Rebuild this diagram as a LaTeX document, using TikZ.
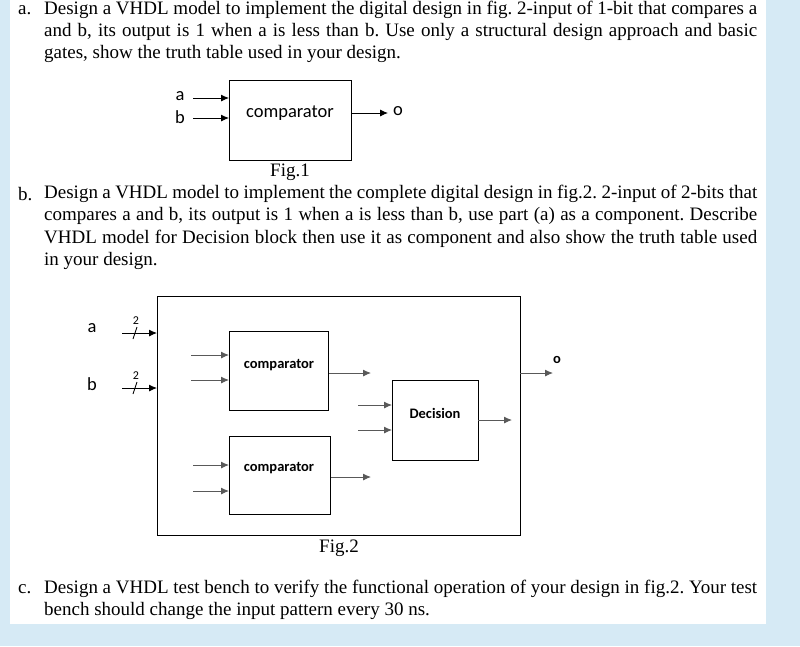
\documentclass[tikz,border=0pt]{standalone}
\usepackage{fontspec}
\setmainfont{Liberation Serif}
\newfontfamily\carfont{Carlito}
\usetikzlibrary{arrows.meta}
\begin{document}
\frenchspacing
\begin{tikzpicture}[x=1pt,y=-1pt,
  txt/.style={anchor=west,inner sep=0pt,font=\fontsize{19}{22}\selectfont},
  lbl/.style={anchor=west,inner sep=0pt,font=\fontsize{19}{22}\selectfont},
  blk/.style={draw,line width=1pt,anchor=north west,inner sep=0pt},
  sans/.style={font=\carfont\fontsize{18.5}{21}\selectfont,inner sep=0pt},
  sanss/.style={font=\carfont\bfseries\fontsize{14.5}{16}\selectfont,inner sep=0pt},
  arr/.style={-{Latex[length=8pt,width=7pt]},line width=0.9pt},
  garr/.style={-{Latex[length=8pt,width=7pt]},line width=0.9pt,draw=black!65}]
\useasboundingbox (0,0) rectangle (800,646);
\fill[fill={rgb,255:red,214;green,234;blue,245}] (0,0) rectangle (800,646);
\fill[white] (10,0) rectangle (766,624);
\newcommand\jl[1]{\makebox[713pt][s]{#1}}
% part a
\node[lbl] (la) at (18,10) {a.};
\node[txt] (a1) at (44,10) {\jl{Design a VHDL model to implement the digital design in fig. 2-input of 1-bit that compares a}};
\node[txt] (a2) at (44,32) {\jl{and b, its output is 1 when a is less than b. Use only a structural design approach and basic}};
\node[txt] (a3) at (44,54) {gates, show the truth table used in your design.};
% fig 1
\node[blk,minimum width=122pt,minimum height=80pt] (c0) at (229,80) {};
\node[sans] (c0t) at (290,113) {comparator};
\node[sans] (ia) at (180,96) {a};
\node[sans] (ib) at (180,117) {b};
\coordinate (ia1) at (193,98); \coordinate (ia2) at (229,98);
\coordinate (ib1) at (193,118); \coordinate (ib2) at (229,118);
\draw[arr] (ia1) -- (ia2);
\draw[arr] (ib1) -- (ib2);
\coordinate (o0a) at (351,113); \coordinate (o0b) at (388,113);
\draw[arr] (o0a) -- (o0b);
\node[sans] (o0) at (398,111) {o};
\node[inner sep=0pt,font=\fontsize{19}{22}\selectfont] (f1) at (290,172) {Fig.1};
% part b
\node[lbl] (lb) at (18,194) {b.};
\node[txt] (b1) at (44,194) {\jl{Design a VHDL model to implement the complete digital design in fig.2. 2-input of 2-bits that}};
\node[txt] (b2) at (44,216) {\jl{compares a and b, its output is 1 when a is less than b, use part (a) as a component. Describe}};
\node[txt] (b3) at (44,239) {\jl{VHDL model for Decision block then use it as component and also show the truth table used}};
\node[txt] (b4) at (44,261) {in your design.};
% fig 2
\node[blk,minimum width=363pt,minimum height=239pt] (outer) at (157,296) {};
\node[sans] (fa) at (92,328) {a};
\node[sans] (fb) at (92,384) {b};
\coordinate (ba1) at (122,333); \coordinate (ba2) at (157,333);
\coordinate (bb1) at (122,388); \coordinate (bb2) at (157,388);
\draw[arr] (ba1) -- (ba2);
\draw[arr] (bb1) -- (bb2);
\draw[line width=0.8pt] (133,339) -- (137,327);
\draw[line width=0.8pt] (133,394) -- (137,382);
\node[font=\carfont\fontsize{12}{13}\selectfont,inner sep=0pt] (n2a) at (136,321) {2};
\node[font=\carfont\fontsize{12}{13}\selectfont,inner sep=0pt] (n2b) at (136,376) {2};
\node[blk,minimum width=99pt,minimum height=79pt] (c1) at (229,331) {};
\node[sanss] (c1t) at (279,365) {comparator};
\node[blk,minimum width=101pt,minimum height=78pt] (c2) at (229,436) {};
\node[sanss] (c2t) at (279,468) {comparator};
\node[blk,minimum width=86pt,minimum height=80pt] (dec) at (392,380) {};
\node[sanss] (dect) at (435,413) {Decision};
\foreach \y/\n in {355/p,380/q}{\coordinate (c1\n1) at (191,\y); \coordinate (c1\n2) at (229,\y); \draw[garr] (c1\n1) -- (c1\n2);}
\foreach \y/\n in {465/p,491/q}{\coordinate (c2\n1) at (193,\y); \coordinate (c2\n2) at (229,\y); \draw[garr] (c2\n1) -- (c2\n2);}
\coordinate (c1o1) at (329,373); \coordinate (c1o2) at (371,373); \draw[garr] (c1o1) -- (c1o2);
\coordinate (c2o1) at (331,477); \coordinate (c2o2) at (371,477); \draw[garr] (c2o1) -- (c2o2);
\coordinate (d11) at (358,405); \coordinate (d12) at (392,405); \draw[garr] (d11) -- (d12);
\coordinate (d21) at (358,430); \coordinate (d22) at (392,430); \draw[garr] (d21) -- (d22);
\coordinate (do1) at (478,420); \coordinate (do2) at (512,420); \draw[garr] (do1) -- (do2);
\coordinate (oo1) at (520,373); \coordinate (oo2) at (553,373); \draw[garr] (oo1) -- (oo2);
\node[sanss] (oo) at (557,360) {o};
\node[inner sep=0pt,font=\fontsize{19}{22}\selectfont] (f2) at (339,548) {Fig.2};
% part c
\node[lbl] (lc) at (18,589) {c.};
\node[txt] (c1l) at (44,589) {\jl{Design a VHDL test bench to verify the functional operation of your design in fig.2. Your test}};
\node[txt] (c2l) at (44,611) {bench should change the input pattern every 30 ns.};
\end{tikzpicture}
\end{document}
